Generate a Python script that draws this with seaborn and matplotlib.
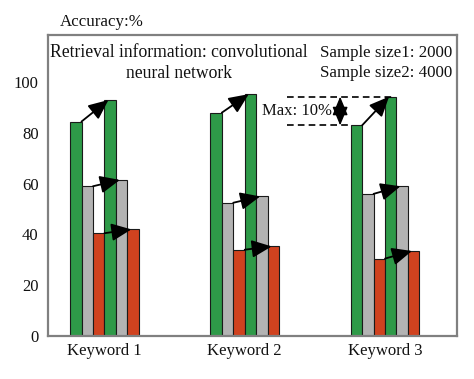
import numpy as np
import pandas as pd
import matplotlib
matplotlib.use("Agg")
import matplotlib.pyplot as plt
import seaborn as sns

# ---- data ----
keywords = ["Keyword 1", "Keyword 2", "Keyword 3"]
series = ["Green 2000", "Gray 2000", "Red 2000", "Green 4000", "Gray 4000", "Red 4000"]
green_2000 = [84.5, 88.0, 83.0]
gray_2000 = [59.0, 52.5, 56.0]
red_2000 = [40.5, 34.0, 30.5]
green_4000 = [93.0, 95.3, 94.3]
gray_4000 = [61.5, 55.0, 59.0]
red_4000 = [42.0, 35.3, 33.5]
y_ticks = [0, 20, 40, 60, 80, 100]
colors = ["#2e9a48", "#b3b3b3", "#d0421f", "#2e9a48", "#b3b3b3", "#d0421f"]

values = [green_2000, gray_2000, red_2000, green_4000, gray_4000, red_4000]
rows = []
for s, vals in zip(series, values):
    for k, v in zip(keywords, vals):
        rows.append({"keyword": k, "series": s, "value": v})
df = pd.DataFrame(rows)

sns.set_style("white")
plt.rcParams["font.family"] = ["Liberation Serif", "DejaVu Serif"]

fig = plt.figure(figsize=(4.74, 3.79), dpi=100)
ax = fig.add_axes([48.3 / 474, 43 / 379, (457 - 48.3) / 474, (336 - 35) / 379])

sns.barplot(data=df, x="keyword", y="value", hue="series", hue_order=series,
            order=keywords, palette=colors, width=0.49, dodge=True, gap=0,
            saturation=1, edgecolor="#1a1a1a", linewidth=0.8, legend=False, ax=ax)

ax.set_xlim(-0.40, 2.513)
ax.set_ylim(0, 118.6)
ax.set_yticks(y_ticks)
ax.set_yticklabels([str(t) for t in y_ticks])
ax.tick_params(axis="both", length=0, labelsize=12, colors="#111111")
ax.tick_params(axis="y", pad=7)
ax.tick_params(axis="x", pad=5)
ax.set_xlabel("")
ax.set_ylabel("")
for sp in ax.spines.values():
    sp.set_visible(True)
    sp.set_color("#808080")
    sp.set_linewidth(1.6)

# arrows between sample sizes
cont = ax.containers
for k in range(len(keywords)):
    for j in range(3):
        b1 = cont[j][k]
        b2 = cont[j + 3][k]
        ax.annotate("", xy=(b2.get_x() + 0.35 * b2.get_width(), b2.get_height()),
                    xytext=(b1.get_x() + b1.get_width(), b1.get_height()),
                    arrowprops=dict(arrowstyle="-|>,head_length=0.45,head_width=0.2",
                                    color="black", lw=1.3,
                                    mutation_scale=27, shrinkA=0, shrinkB=0),
                    zorder=5)

# Max: 10% annotation
g1 = cont[0][2]
g2 = cont[3][2]
xl = 1.30
ax.plot([xl, g2.get_x() + 0.6 * g2.get_width()], [g2.get_height()] * 2,
        ls=(0, (4, 2.5)), color="black", lw=1.2, zorder=4)
ax.plot([xl, g1.get_x() - 0.02], [g1.get_height()] * 2,
        ls=(0, (4, 2.5)), color="black", lw=1.2, zorder=4)
xa = 1.68
ax.annotate("", xy=(xa, g2.get_height()), xytext=(xa, g1.get_height()),
            arrowprops=dict(arrowstyle="<|-|>,head_length=0.58,head_width=0.24",
                            color="black", lw=1.0,
                            mutation_scale=20, shrinkA=0, shrinkB=0))
ax.text(1.376, (g1.get_height() + g2.get_height()) / 2, "Max: 10%",
        ha="center", va="center", fontsize=12, color="#111111")

# texts
fig.text(60 / 474, 1 - 22 / 379, "Accuracy:%", ha="left", va="center",
         fontsize=12.2, color="#111111")
fig.text(179 / 474, 1 - 63 / 379, "Retrieval information: convolutional\nneural network",
         ha="center", va="center", fontsize=12.7, linespacing=1.3, color="#111111")
fig.text(452 / 474, 1 - 63 / 379, "Sample size1: 2000\nSample size2: 4000",
         ha="right", va="center", fontsize=12.2, linespacing=1.38, color="#111111")

fig.savefig("out.png", dpi=100)
